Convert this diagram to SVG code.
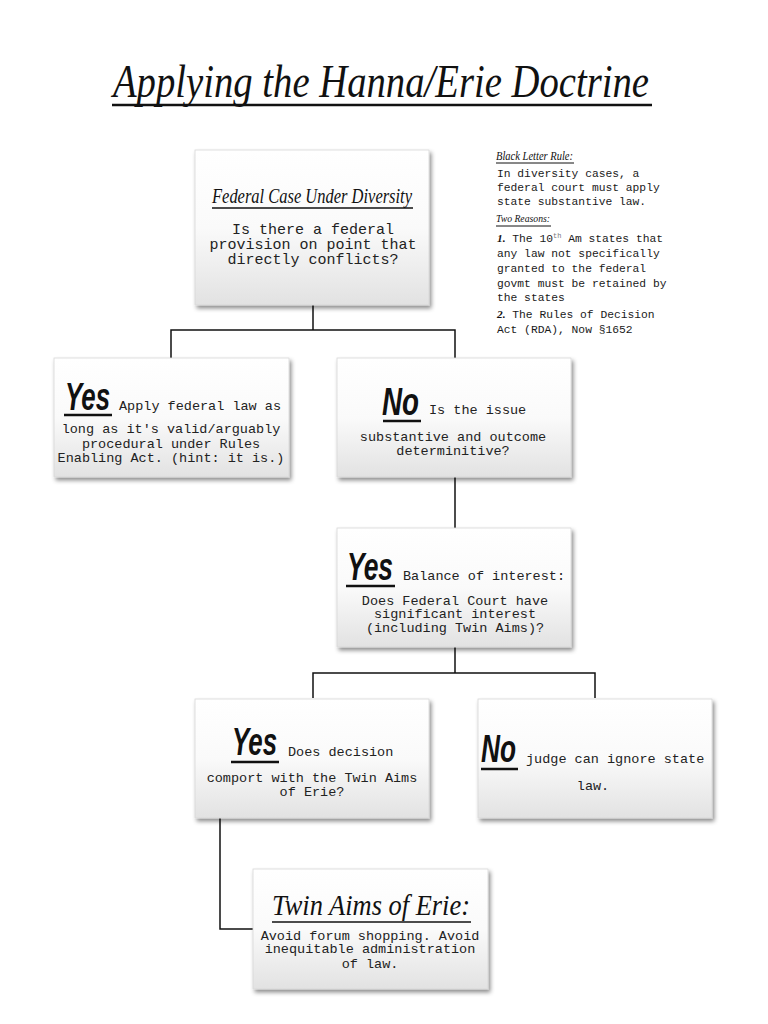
<svg xmlns="http://www.w3.org/2000/svg" width="768" height="1024" viewBox="0 0 768 1024">
<defs>
<linearGradient id="g" x1="0" y1="0" x2="0" y2="1">
<stop offset="0" stop-color="#ffffff"/>
<stop offset="0.5" stop-color="#fafafa"/>
<stop offset="1" stop-color="#e2e2e2"/>
</linearGradient>
<filter id="sh" x="-10%" y="-10%" width="125%" height="130%">
<feDropShadow dx="2" dy="3" stdDeviation="2" flood-color="#000" flood-opacity="0.45"/>
</filter>
<style>
.box{fill:url(#g);stroke:#d8d8d8;stroke-width:0.8;filter:url(#sh)}
.t{font-family:"Liberation Mono","Courier New",monospace;font-size:13.5px;fill:#222}
.tc{text-anchor:middle}
.big{font-size:15px}
.s{font-family:"Liberation Mono","Courier New",monospace;font-size:11.3px;fill:#1a1a1a}
.scr{font-family:"Liberation Serif","DejaVu Serif",serif;font-style:italic;fill:#111}
.yn{font-family:"Liberation Sans","DejaVu Sans",sans-serif;font-style:italic;font-weight:bold;fill:#111;font-size:38px}
.ul{stroke:#111;stroke-width:2.5}
.ul2{stroke:#111;stroke-width:1.4}
.c{stroke:#111;stroke-width:1.5;fill:none}
</style>
</defs>
<rect width="768" height="1024" fill="#fff"/>

<g id="title">
<text class="scr" x="113" y="97" font-size="46" textLength="536" lengthAdjust="spacingAndGlyphs">Applying the Hanna/Erie Doctrine</text>
<line class="ul" x1="112" y1="105" x2="652" y2="105"/>
</g>

<g id="connectors">
<polyline class="c" points="313,305 313,330"/>
<polyline class="c" points="171,358 171,330 455,330 455,358"/>
<polyline class="c" points="455,477 455,528"/>
<polyline class="c" points="455,647 455,673"/>
<polyline class="c" points="313,698 313,673 595,673 595,698"/>
<polyline class="c" points="220,818 220,929 253,929"/>
</g>

<g id="node-federal-case">
<rect class="box" x="195" y="150" width="234" height="155"/>
<text class="scr" x="212" y="203" font-size="20" textLength="200" lengthAdjust="spacingAndGlyphs">Federal Case Under Diversity</text>
<line class="ul2" x1="212" y1="208" x2="413" y2="208"/>
<text class="t tc big" x="313" y="234">Is there a federal</text>
<text class="t tc big" x="313" y="249">provision on point that</text>
<text class="t tc big" x="313" y="264">directly conflicts?</text>
</g>

<g id="node-black-letter">
<text class="scr" x="496" y="160" font-size="12" textLength="77" lengthAdjust="spacingAndGlyphs">Black Letter Rule:</text>
<line stroke="#111" stroke-width="1" x1="496" y1="163" x2="574" y2="163"/>
<text class="s" x="497" y="177">In diversity cases, a</text>
<text class="s" x="497" y="191">federal court must apply</text>
<text class="s" x="497" y="205">state substantive law.</text>
<text class="scr" x="496" y="222" font-size="11" textLength="54" lengthAdjust="spacingAndGlyphs">Two Reasons:</text>
<line stroke="#111" stroke-width="1" x1="496" y1="226" x2="551" y2="226"/>
<text class="s" x="497" y="242"><tspan class="scr" font-weight="bold">1.</tspan> The 10<tspan font-size="7" dy="-4" fill="#777">th</tspan><tspan dy="4"> Am states that</tspan></text>
<text class="s" x="497" y="257">any law not specifically</text>
<text class="s" x="497" y="272">granted to the federal</text>
<text class="s" x="497" y="287">govmt must be retained by</text>
<text class="s" x="497" y="301">the states</text>
<text class="s" x="497" y="318"><tspan class="scr" font-weight="bold">2.</tspan> The Rules of Decision</text>
<text class="s" x="497" y="333">Act (RDA), Now §1652</text>
</g>

<g id="node-yes-apply">
<rect class="box" x="54" y="358" width="235" height="119"/>
<text class="yn" x="65" y="410" textLength="45" lengthAdjust="spacingAndGlyphs">Yes</text>
<line class="ul" x1="64" y1="415" x2="112" y2="415"/>
<text class="t" x="119" y="410">Apply federal law as</text>
<text class="t tc" x="171" y="433">long as it's valid/arguably</text>
<text class="t tc" x="171" y="448">procedural under Rules</text>
<text class="t tc" x="171" y="462">Enabling Act. (hint: it is.)</text>
</g>

<g id="node-no-substantive">
<rect class="box" x="337" y="358" width="234" height="119"/>
<text class="yn" x="382" y="415" textLength="37" lengthAdjust="spacingAndGlyphs">No</text>
<line class="ul" x1="383" y1="421" x2="421" y2="421"/>
<text class="t" x="429" y="414">Is the issue</text>
<text class="t tc" x="453" y="441">substantive and outcome</text>
<text class="t tc" x="453" y="455">determinitive?</text>
</g>

<g id="node-yes-balance">
<rect class="box" x="337" y="528" width="234" height="119"/>
<text class="yn" x="347" y="580" textLength="46" lengthAdjust="spacingAndGlyphs">Yes</text>
<line class="ul" x1="346" y1="586" x2="395" y2="586"/>
<text class="t" x="403" y="580">Balance of interest:</text>
<text class="t tc" x="455" y="605">Does Federal Court have</text>
<text class="t tc" x="455" y="618">significant interest</text>
<text class="t tc" x="455" y="632">(including Twin Aims)?</text>
</g>

<g id="node-yes-comport">
<rect class="box" x="195" y="699" width="234" height="119"/>
<text class="yn" x="232" y="755" textLength="45" lengthAdjust="spacingAndGlyphs">Yes</text>
<line class="ul" x1="231" y1="762" x2="279" y2="762"/>
<text class="t" x="288" y="756">Does decision</text>
<text class="t tc" x="312" y="782">comport with the Twin Aims</text>
<text class="t tc" x="312" y="796">of Erie?</text>
</g>

<g id="node-no-judge">
<rect class="box" x="478" y="699" width="234" height="119"/>
<text class="yn" x="481" y="762" textLength="35" lengthAdjust="spacingAndGlyphs">No</text>
<line class="ul" x1="481" y1="769" x2="518" y2="769"/>
<text class="t" x="526" y="763">judge can ignore state</text>
<text class="t tc" x="593" y="790">law.</text>
</g>

<g id="node-twin-aims">
<rect class="box" x="253" y="869" width="235" height="120"/>
<text class="scr" x="272" y="915" font-size="30" textLength="198" lengthAdjust="spacingAndGlyphs">Twin Aims of Erie:</text>
<line class="ul2" x1="272" y1="922" x2="471" y2="922"/>
<text class="t tc" x="370" y="940">Avoid forum shopping. Avoid</text>
<text class="t tc" x="370" y="953">inequitable administration</text>
<text class="t tc" x="370" y="968">of law.</text>
</g>
</svg>
